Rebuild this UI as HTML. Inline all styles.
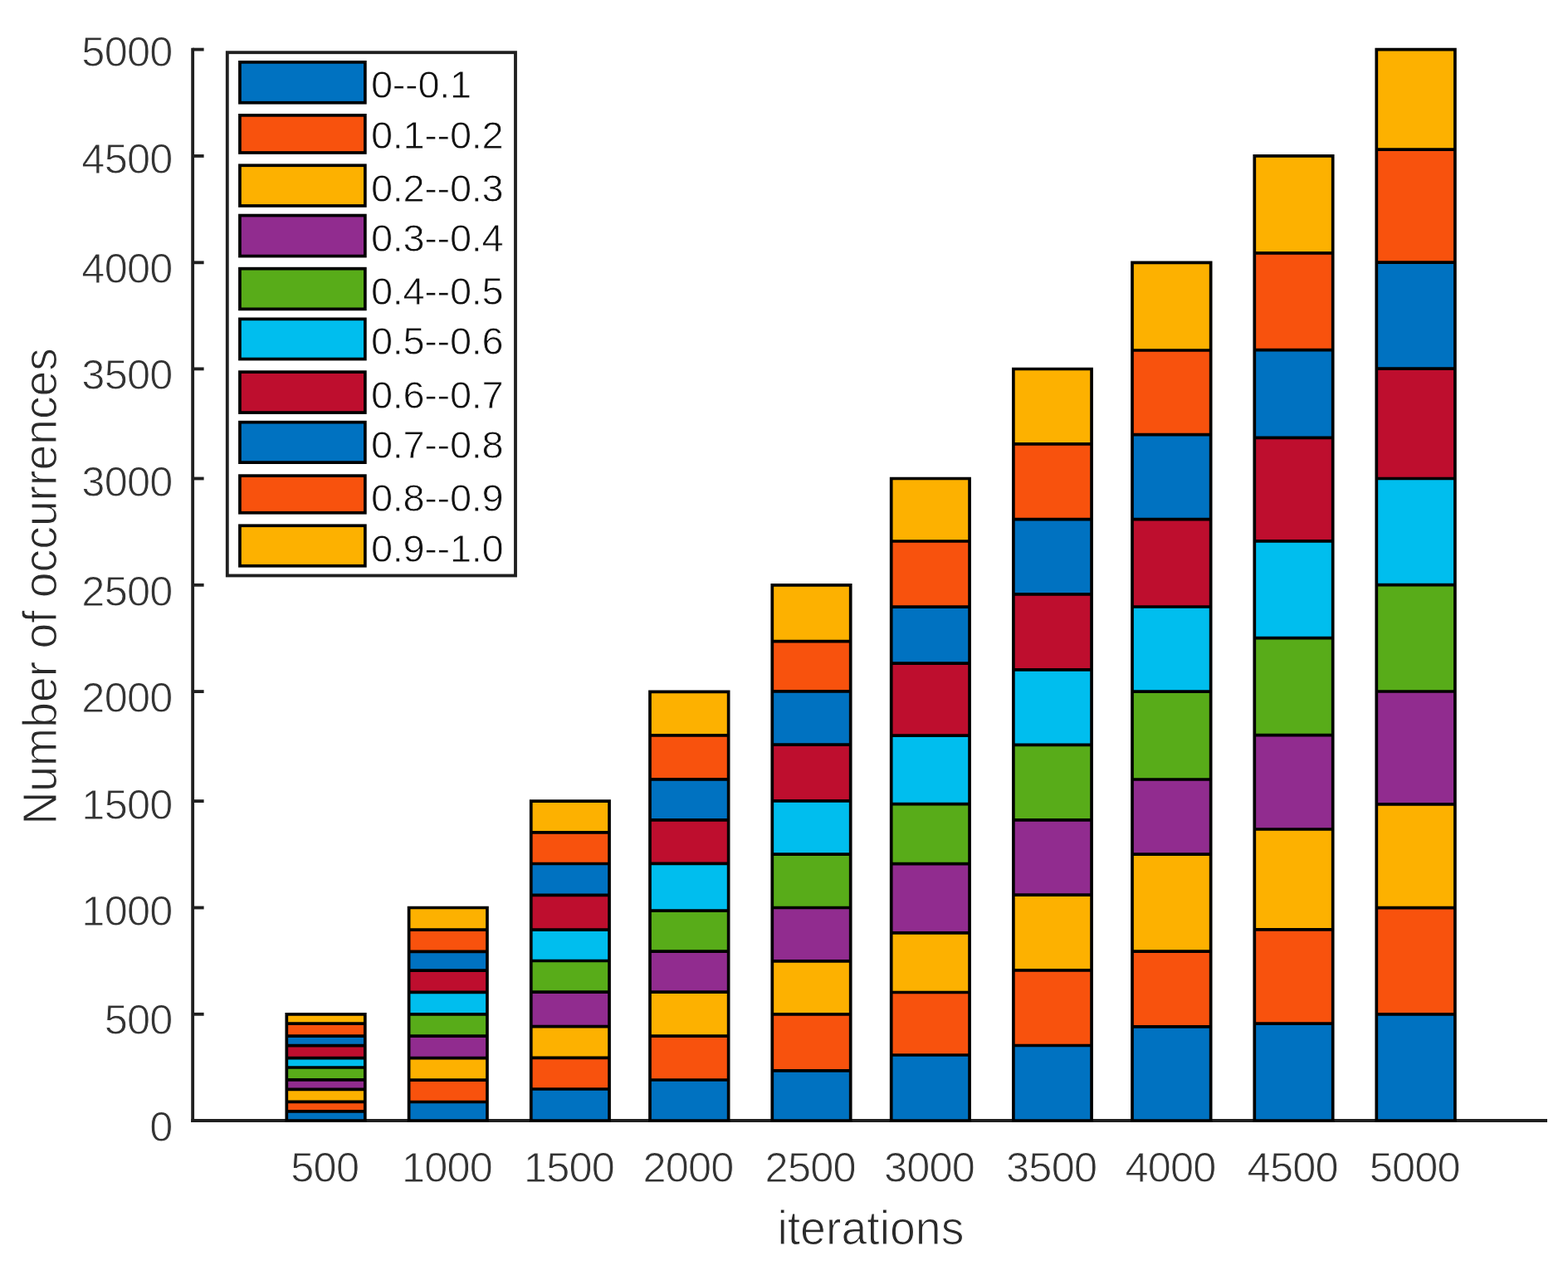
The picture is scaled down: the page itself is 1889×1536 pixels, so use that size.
<!DOCTYPE html>
<html><head><meta charset="utf-8"><title>Number of occurrences vs iterations</title>
<style>html,body{margin:0;padding:0;background:#fff;width:1889px;height:1536px;overflow:hidden}svg{display:block}</style>
</head><body>
<svg width="1889" height="1536" viewBox="0 0 1889 1536">
<rect width="1889" height="1536" fill="#fff"/>
<g stroke="#202020" stroke-width="3.85" fill="none">
<line x1="232.15" y1="57.70" x2="232.15" y2="1351.9"/>
<line x1="230.2" y1="1350" x2="1864" y2="1350"/>
<line x1="232" y1="1350.00" x2="245.6" y2="1350.00"/>
<line x1="232" y1="1221.80" x2="245.6" y2="1221.80"/>
<line x1="232" y1="1093.50" x2="245.6" y2="1093.50"/>
<line x1="232" y1="965.10" x2="245.6" y2="965.10"/>
<line x1="232" y1="833.10" x2="245.6" y2="833.10"/>
<line x1="232" y1="704.80" x2="245.6" y2="704.80"/>
<line x1="232" y1="576.50" x2="245.6" y2="576.50"/>
<line x1="232" y1="444.40" x2="245.6" y2="444.40"/>
<line x1="232" y1="316.30" x2="245.6" y2="316.30"/>
<line x1="232" y1="187.95" x2="245.6" y2="187.95"/>
<line x1="232" y1="59.60" x2="245.6" y2="59.60"/>
</g>
<rect x="345.30" y="1338.80" width="94.50" height="11.20" fill="#0072C1"/>
<rect x="345.30" y="1327.40" width="94.50" height="11.40" fill="#F8520D"/>
<rect x="345.30" y="1312.30" width="94.50" height="15.10" fill="#FDB100"/>
<rect x="345.30" y="1300.90" width="94.50" height="11.40" fill="#912C8F"/>
<rect x="345.30" y="1286.00" width="94.50" height="14.90" fill="#58AC19"/>
<rect x="345.30" y="1274.60" width="94.50" height="11.40" fill="#00BEEE"/>
<rect x="345.30" y="1259.60" width="94.50" height="15.00" fill="#BE0E2E"/>
<rect x="345.30" y="1248.10" width="94.50" height="11.50" fill="#0072C1"/>
<rect x="345.30" y="1233.10" width="94.50" height="15.00" fill="#F8520D"/>
<rect x="345.30" y="1221.80" width="94.50" height="11.30" fill="#FDB100"/>
<rect x="492.60" y="1327.50" width="94.35" height="22.50" fill="#0072C1"/>
<rect x="492.60" y="1301.10" width="94.35" height="26.40" fill="#F8520D"/>
<rect x="492.60" y="1274.70" width="94.35" height="26.40" fill="#FDB100"/>
<rect x="492.60" y="1248.20" width="94.35" height="26.50" fill="#912C8F"/>
<rect x="492.60" y="1221.90" width="94.35" height="26.30" fill="#58AC19"/>
<rect x="492.60" y="1195.40" width="94.35" height="26.50" fill="#00BEEE"/>
<rect x="492.60" y="1169.05" width="94.35" height="26.35" fill="#BE0E2E"/>
<rect x="492.60" y="1146.40" width="94.35" height="22.65" fill="#0072C1"/>
<rect x="492.60" y="1120.05" width="94.35" height="26.35" fill="#F8520D"/>
<rect x="492.60" y="1093.50" width="94.35" height="26.55" fill="#FDB100"/>
<rect x="639.75" y="1312.00" width="94.30" height="38.00" fill="#0072C1"/>
<rect x="639.75" y="1274.30" width="94.30" height="37.70" fill="#F8520D"/>
<rect x="639.75" y="1236.70" width="94.30" height="37.60" fill="#FDB100"/>
<rect x="639.75" y="1195.20" width="94.30" height="41.50" fill="#912C8F"/>
<rect x="639.75" y="1157.50" width="94.30" height="37.70" fill="#58AC19"/>
<rect x="639.75" y="1120.10" width="94.30" height="37.40" fill="#00BEEE"/>
<rect x="639.75" y="1078.40" width="94.30" height="41.70" fill="#BE0E2E"/>
<rect x="639.75" y="1040.50" width="94.30" height="37.90" fill="#0072C1"/>
<rect x="639.75" y="1002.90" width="94.30" height="37.60" fill="#F8520D"/>
<rect x="639.75" y="965.10" width="94.30" height="37.80" fill="#FDB100"/>
<rect x="783.00" y="1301.00" width="94.65" height="49.00" fill="#0072C1"/>
<rect x="783.00" y="1248.20" width="94.65" height="52.80" fill="#F8520D"/>
<rect x="783.00" y="1195.20" width="94.65" height="53.00" fill="#FDB100"/>
<rect x="783.00" y="1146.20" width="94.65" height="49.00" fill="#912C8F"/>
<rect x="783.00" y="1097.10" width="94.65" height="49.10" fill="#58AC19"/>
<rect x="783.00" y="1040.40" width="94.65" height="56.70" fill="#00BEEE"/>
<rect x="783.00" y="987.90" width="94.65" height="52.50" fill="#BE0E2E"/>
<rect x="783.00" y="938.90" width="94.65" height="49.00" fill="#0072C1"/>
<rect x="783.00" y="885.90" width="94.65" height="53.00" fill="#F8520D"/>
<rect x="783.00" y="833.30" width="94.65" height="52.60" fill="#FDB100"/>
<rect x="930.30" y="1289.90" width="94.40" height="60.10" fill="#0072C1"/>
<rect x="930.30" y="1221.80" width="94.40" height="68.10" fill="#F8520D"/>
<rect x="930.30" y="1157.80" width="94.40" height="64.00" fill="#FDB100"/>
<rect x="930.30" y="1093.50" width="94.40" height="64.30" fill="#912C8F"/>
<rect x="930.30" y="1029.20" width="94.40" height="64.30" fill="#58AC19"/>
<rect x="930.30" y="964.90" width="94.40" height="64.30" fill="#00BEEE"/>
<rect x="930.30" y="897.20" width="94.40" height="67.70" fill="#BE0E2E"/>
<rect x="930.30" y="832.90" width="94.40" height="64.30" fill="#0072C1"/>
<rect x="930.30" y="772.60" width="94.40" height="60.30" fill="#F8520D"/>
<rect x="930.30" y="704.80" width="94.40" height="67.80" fill="#FDB100"/>
<rect x="1073.70" y="1271.00" width="94.35" height="79.00" fill="#0072C1"/>
<rect x="1073.70" y="1195.50" width="94.35" height="75.50" fill="#F8520D"/>
<rect x="1073.70" y="1123.80" width="94.35" height="71.70" fill="#FDB100"/>
<rect x="1073.70" y="1040.60" width="94.35" height="83.20" fill="#912C8F"/>
<rect x="1073.70" y="968.70" width="94.35" height="71.90" fill="#58AC19"/>
<rect x="1073.70" y="886.10" width="94.35" height="82.60" fill="#00BEEE"/>
<rect x="1073.70" y="799.10" width="94.35" height="87.00" fill="#BE0E2E"/>
<rect x="1073.70" y="731.10" width="94.35" height="68.00" fill="#0072C1"/>
<rect x="1073.70" y="652.00" width="94.35" height="79.10" fill="#F8520D"/>
<rect x="1073.70" y="576.50" width="94.35" height="75.50" fill="#FDB100"/>
<rect x="1220.85" y="1259.50" width="94.20" height="90.50" fill="#0072C1"/>
<rect x="1220.85" y="1168.90" width="94.20" height="90.60" fill="#F8520D"/>
<rect x="1220.85" y="1078.20" width="94.20" height="90.70" fill="#FDB100"/>
<rect x="1220.85" y="987.80" width="94.20" height="90.40" fill="#912C8F"/>
<rect x="1220.85" y="897.30" width="94.20" height="90.50" fill="#58AC19"/>
<rect x="1220.85" y="806.80" width="94.20" height="90.50" fill="#00BEEE"/>
<rect x="1220.85" y="715.90" width="94.20" height="90.90" fill="#BE0E2E"/>
<rect x="1220.85" y="625.60" width="94.20" height="90.30" fill="#0072C1"/>
<rect x="1220.85" y="534.90" width="94.20" height="90.70" fill="#F8520D"/>
<rect x="1220.85" y="444.50" width="94.20" height="90.40" fill="#FDB100"/>
<rect x="1364.00" y="1236.90" width="94.65" height="113.10" fill="#0072C1"/>
<rect x="1364.00" y="1146.20" width="94.65" height="90.70" fill="#F8520D"/>
<rect x="1364.00" y="1029.20" width="94.65" height="117.00" fill="#FDB100"/>
<rect x="1364.00" y="939.00" width="94.65" height="90.20" fill="#912C8F"/>
<rect x="1364.00" y="833.10" width="94.65" height="105.90" fill="#58AC19"/>
<rect x="1364.00" y="731.00" width="94.65" height="102.10" fill="#00BEEE"/>
<rect x="1364.00" y="625.60" width="94.65" height="105.40" fill="#BE0E2E"/>
<rect x="1364.00" y="523.70" width="94.65" height="101.90" fill="#0072C1"/>
<rect x="1364.00" y="422.00" width="94.65" height="101.70" fill="#F8520D"/>
<rect x="1364.00" y="316.30" width="94.65" height="105.70" fill="#FDB100"/>
<rect x="1511.30" y="1233.20" width="94.40" height="116.80" fill="#0072C1"/>
<rect x="1511.30" y="1119.90" width="94.40" height="113.30" fill="#F8520D"/>
<rect x="1511.30" y="999.00" width="94.40" height="120.90" fill="#FDB100"/>
<rect x="1511.30" y="885.70" width="94.40" height="113.30" fill="#912C8F"/>
<rect x="1511.30" y="768.70" width="94.40" height="117.00" fill="#58AC19"/>
<rect x="1511.30" y="651.80" width="94.40" height="116.90" fill="#00BEEE"/>
<rect x="1511.30" y="527.40" width="94.40" height="124.40" fill="#BE0E2E"/>
<rect x="1511.30" y="421.70" width="94.40" height="105.70" fill="#0072C1"/>
<rect x="1511.30" y="304.80" width="94.40" height="116.90" fill="#F8520D"/>
<rect x="1511.30" y="187.95" width="94.40" height="116.85" fill="#FDB100"/>
<rect x="1658.30" y="1221.80" width="94.60" height="128.20" fill="#0072C1"/>
<rect x="1658.30" y="1093.60" width="94.60" height="128.20" fill="#F8520D"/>
<rect x="1658.30" y="968.90" width="94.60" height="124.70" fill="#FDB100"/>
<rect x="1658.30" y="833.00" width="94.60" height="135.90" fill="#912C8F"/>
<rect x="1658.30" y="704.70" width="94.60" height="128.30" fill="#58AC19"/>
<rect x="1658.30" y="576.50" width="94.60" height="128.20" fill="#00BEEE"/>
<rect x="1658.30" y="444.20" width="94.60" height="132.30" fill="#BE0E2E"/>
<rect x="1658.30" y="316.20" width="94.60" height="128.00" fill="#0072C1"/>
<rect x="1658.30" y="180.10" width="94.60" height="136.10" fill="#F8520D"/>
<rect x="1658.30" y="59.60" width="94.60" height="120.50" fill="#FDB100"/>
<g stroke="#000" stroke-width="3.7" fill="none">
<path d="M345.30 1221.80H439.80V1350H345.30ZM345.30 1338.80H439.80M345.30 1327.40H439.80M345.30 1312.30H439.80M345.30 1300.90H439.80M345.30 1286.00H439.80M345.30 1274.60H439.80M345.30 1259.60H439.80M345.30 1248.10H439.80M345.30 1233.10H439.80"/>
<path d="M492.60 1093.50H586.95V1350H492.60ZM492.60 1327.50H586.95M492.60 1301.10H586.95M492.60 1274.70H586.95M492.60 1248.20H586.95M492.60 1221.90H586.95M492.60 1195.40H586.95M492.60 1169.05H586.95M492.60 1146.40H586.95M492.60 1120.05H586.95"/>
<path d="M639.75 965.10H734.05V1350H639.75ZM639.75 1312.00H734.05M639.75 1274.30H734.05M639.75 1236.70H734.05M639.75 1195.20H734.05M639.75 1157.50H734.05M639.75 1120.10H734.05M639.75 1078.40H734.05M639.75 1040.50H734.05M639.75 1002.90H734.05"/>
<path d="M783.00 833.30H877.65V1350H783.00ZM783.00 1301.00H877.65M783.00 1248.20H877.65M783.00 1195.20H877.65M783.00 1146.20H877.65M783.00 1097.10H877.65M783.00 1040.40H877.65M783.00 987.90H877.65M783.00 938.90H877.65M783.00 885.90H877.65"/>
<path d="M930.30 704.80H1024.70V1350H930.30ZM930.30 1289.90H1024.70M930.30 1221.80H1024.70M930.30 1157.80H1024.70M930.30 1093.50H1024.70M930.30 1029.20H1024.70M930.30 964.90H1024.70M930.30 897.20H1024.70M930.30 832.90H1024.70M930.30 772.60H1024.70"/>
<path d="M1073.70 576.50H1168.05V1350H1073.70ZM1073.70 1271.00H1168.05M1073.70 1195.50H1168.05M1073.70 1123.80H1168.05M1073.70 1040.60H1168.05M1073.70 968.70H1168.05M1073.70 886.10H1168.05M1073.70 799.10H1168.05M1073.70 731.10H1168.05M1073.70 652.00H1168.05"/>
<path d="M1220.85 444.50H1315.05V1350H1220.85ZM1220.85 1259.50H1315.05M1220.85 1168.90H1315.05M1220.85 1078.20H1315.05M1220.85 987.80H1315.05M1220.85 897.30H1315.05M1220.85 806.80H1315.05M1220.85 715.90H1315.05M1220.85 625.60H1315.05M1220.85 534.90H1315.05"/>
<path d="M1364.00 316.30H1458.65V1350H1364.00ZM1364.00 1236.90H1458.65M1364.00 1146.20H1458.65M1364.00 1029.20H1458.65M1364.00 939.00H1458.65M1364.00 833.10H1458.65M1364.00 731.00H1458.65M1364.00 625.60H1458.65M1364.00 523.70H1458.65M1364.00 422.00H1458.65"/>
<path d="M1511.30 187.95H1605.70V1350H1511.30ZM1511.30 1233.20H1605.70M1511.30 1119.90H1605.70M1511.30 999.00H1605.70M1511.30 885.70H1605.70M1511.30 768.70H1605.70M1511.30 651.80H1605.70M1511.30 527.40H1605.70M1511.30 421.70H1605.70M1511.30 304.80H1605.70"/>
<path d="M1658.30 59.60H1752.90V1350H1658.30ZM1658.30 1221.80H1752.90M1658.30 1093.60H1752.90M1658.30 968.90H1752.90M1658.30 833.00H1752.90M1658.30 704.70H1752.90M1658.30 576.50H1752.90M1658.30 444.20H1752.90M1658.30 316.20H1752.90M1658.30 180.10H1752.90"/>
</g>
<g font-family="'Liberation Sans', Arial, sans-serif" font-size="50.5" fill="#333" stroke="#fff" stroke-width="0.9" letter-spacing="-0.8" text-anchor="end">
<text x="207.5" y="1374.50">0</text>
<text x="207.5" y="1246.20">500</text>
<text x="207.5" y="1114.50">1000</text>
<text x="207.5" y="986.70">1500</text>
<text x="207.5" y="858.40">2000</text>
<text x="207.5" y="729.90">2500</text>
<text x="207.5" y="597.60">3000</text>
<text x="207.5" y="469.40">3500</text>
<text x="207.5" y="341.30">4000</text>
<text x="207.5" y="209.00">4500</text>
<text x="207.5" y="80.20">5000</text>
</g>
<g font-family="'Liberation Sans', Arial, sans-serif" font-size="50.5" fill="#333" stroke="#fff" stroke-width="0.9" letter-spacing="-0.8" text-anchor="middle">
<text x="391.25" y="1424.2">500</text>
<text x="538.48" y="1424.2">1000</text>
<text x="685.60" y="1424.2">1500</text>
<text x="829.03" y="1424.2">2000</text>
<text x="976.20" y="1424.2">2500</text>
<text x="1119.58" y="1424.2">3000</text>
<text x="1266.65" y="1424.2">3500</text>
<text x="1410.03" y="1424.2">4000</text>
<text x="1557.20" y="1424.2">4500</text>
<text x="1704.30" y="1424.2">5000</text>
</g>
<text font-family="'Liberation Sans', Arial, sans-serif" font-size="57" fill="#2a2a2a" stroke="#fff" stroke-width="1.1" text-anchor="middle" x="1048.9" y="1498.8" textLength="225" lengthAdjust="spacingAndGlyphs">iterations</text>
<text font-family="'Liberation Sans', Arial, sans-serif" font-size="58" fill="#2a2a2a" stroke="#fff" stroke-width="1.1" text-anchor="middle" transform="translate(68.2,706.3) rotate(-90)" textLength="574.5" lengthAdjust="spacingAndGlyphs">Number of occurrences</text>
<rect x="273.8" y="63.2" width="347.20" height="630.25" fill="#fff" stroke="#202020" stroke-width="3.85"/>
<g stroke="#000" stroke-width="3.7">
<rect x="288.95" y="74.85" width="150.9" height="48.90" fill="#0072C1"/>
<rect x="288.95" y="138.85" width="150.9" height="45.10" fill="#F8520D"/>
<rect x="288.95" y="199.25" width="150.9" height="48.70" fill="#FDB100"/>
<rect x="288.95" y="259.55" width="150.9" height="49.00" fill="#912C8F"/>
<rect x="288.95" y="323.65" width="150.9" height="48.70" fill="#58AC19"/>
<rect x="288.95" y="384.35" width="150.9" height="48.20" fill="#00BEEE"/>
<rect x="288.95" y="448.15" width="150.9" height="48.90" fill="#BE0E2E"/>
<rect x="288.95" y="508.65" width="150.9" height="48.50" fill="#0072C1"/>
<rect x="288.95" y="573.15" width="150.9" height="44.60" fill="#F8520D"/>
<rect x="288.95" y="633.25" width="150.9" height="48.50" fill="#FDB100"/>
</g>
<g font-family="'Liberation Sans', Arial, sans-serif" font-size="47" fill="#111" stroke="#fff" stroke-width="0.8" letter-spacing="-0.35">
<text x="447" y="118.00">0--0.1</text>
<text x="447" y="178.60">0.1--0.2</text>
<text x="447" y="242.70">0.2--0.3</text>
<text x="447" y="302.80">0.3--0.4</text>
<text x="447" y="367.10">0.4--0.5</text>
<text x="447" y="427.40">0.5--0.6</text>
<text x="447" y="491.75">0.6--0.7</text>
<text x="447" y="552.20">0.7--0.8</text>
<text x="447" y="616.20">0.8--0.9</text>
<text x="447" y="676.80">0.9--1.0</text>
</g>
</svg>
</body></html>
